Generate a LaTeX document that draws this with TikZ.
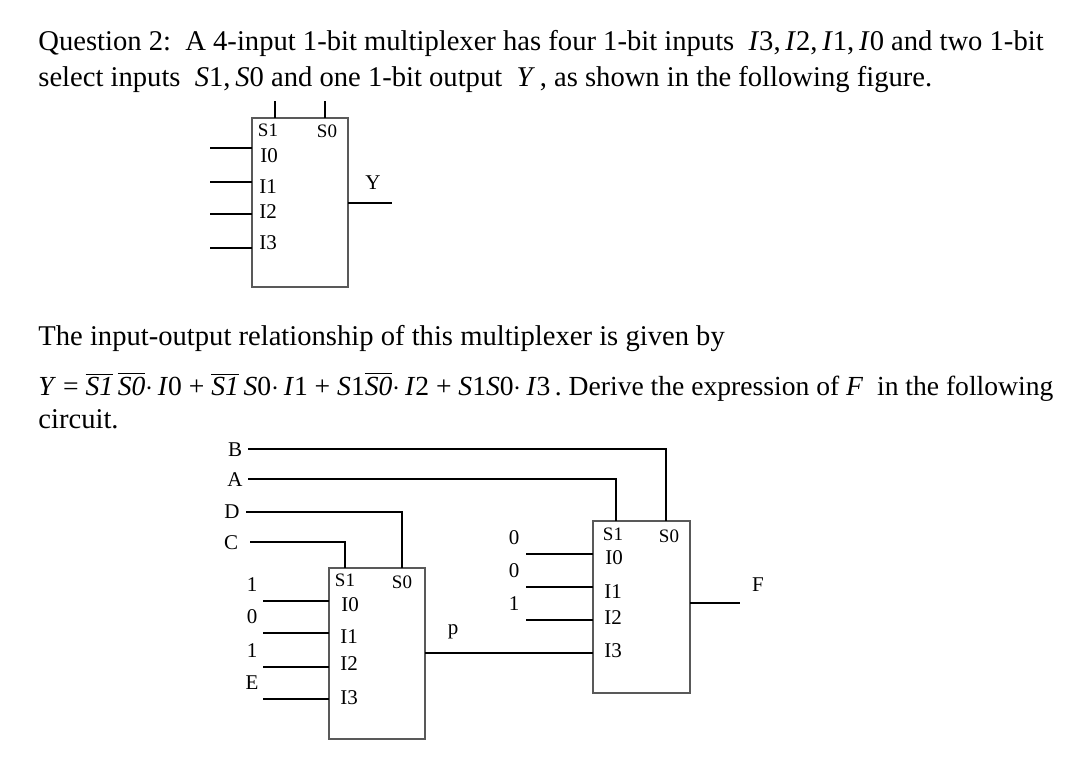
\documentclass[tikz,border=0pt]{standalone}
\usepackage{fontspec}
\setmainfont{Liberation Serif}
\begin{document}
\begin{tikzpicture}[x=0.5pt,y=-0.5pt,
  box/.style={draw=black!65,line width=0.8pt},
  wire/.style={draw,line width=0.9pt},
  txt/.style={anchor=base west,inner sep=0pt,font=\fontsize{14.3}{16}\selectfont},
  pin/.style={inner sep=0pt,font=\fontsize{9.5}{10}\selectfont},
  lab/.style={inner sep=0pt,font=\fontsize{10.5}{11}\selectfont}]
\useasboundingbox (0,0) rectangle (1090,756);
\newcommand{\ov}[1]{$\overline{\textit{#1}}$}
\node[txt] (t1) at (38,50) {Question 2:\ \ A 4-input 1-bit multiplexer has four 1-bit inputs\ \ \textit{I}3,\,\textit{I}2,\,\textit{I}1,\,\textit{I}0 and two 1-bit};
\node[txt] (t2) at (38,86) {select inputs\ \ \textit{S}1,\,\textit{S}0 and one 1-bit output\ \ \textit{Y}\,, as shown in the following figure.};
% top mux
\draw[box] (252,118) rectangle (348,287);
\coordinate (ts1) at (275,118); \coordinate (ts0) at (325,118);
\draw[wire] (ts1) -- (275,101); \draw[wire] (ts0) -- (325,101);
\foreach \y in {148,182,214,248} \draw[wire] (210,\y) -- (252,\y);
\draw[wire] (348,203) -- (392,203);
\node[pin] at (268,130) {S1}; \node[pin] at (327,131) {S0};
\node[lab] at (269,156) {I0}; \node[lab] at (268,187) {I1};
\node[lab] at (268,212) {I2}; \node[lab] at (268,243) {I3};
\node[lab] at (373,183) {Y};
\node[txt] (t3) at (38,345) {The input-output relationship of this multiplexer is given by};
\node[txt,font=\fontsize{13.8}{16}\selectfont] (t4) at (38,395) {\textit{Y} = \ov{S1}\,\ov{S0}$\cdot$\,\textit{I}0 + \ov{S1}\,\textit{S}0$\cdot$\,\textit{I}1 + \textit{S}1\ov{S0}$\cdot$\,\textit{I}2 + \textit{S}1\textit{S}0$\cdot$\,\textit{I}3\,.\ Derive the expression of\ \textit{F}\ \ in the following};
\node[txt] (t5) at (38,428) {circuit.};
% bottom circuit
\draw[box] (329,568) rectangle (425,739);
\draw[box] (593,521) rectangle (690,693);
\node[lab] (B) at (235,450) {B}; \node[lab] (A) at (235,480) {A};
\node[lab] (D) at (232,512) {D}; \node[lab] (C) at (231,543) {C};
\draw[wire] (248,449) -- (666,449) -- (666,521);
\draw[wire] (248,479) -- (616,479) -- (616,521);
\draw[wire] (246,512) -- (402,512) -- (402,568);
\draw[wire] (250,542) -- (345,542) -- (345,568);
\foreach \y/\l [count=\i] in {601/1,633/0,667/1,699/E}{
  \draw[wire] (263,\y) -- (329,\y);
  \node[lab] at (252,\y-16) {\l};}
\foreach \y/\l in {554/0,587/0,620/1}{
  \draw[wire] (526,\y) -- (593,\y);
  \node[lab] at (514,\y-16) {\l};}
\draw[wire] (425,653) -- (593,653);
\node[lab] at (453,632) {p};
\draw[wire] (690,603) -- (740,603);
\node[lab] at (758,585) {F};
\node[pin] at (345,580) {S1}; \node[pin] at (402,582) {S0};
\node[lab] at (350,605) {I0}; \node[lab] at (349,637) {I1};
\node[lab] at (349,664) {I2}; \node[lab] at (349,698) {I3};
\node[pin] at (613,534) {S1}; \node[pin] at (669,536) {S0};
\node[lab] at (614,558) {I0}; \node[lab] at (613,592) {I1};
\node[lab] at (613,618) {I2}; \node[lab] at (613,651) {I3};
\end{tikzpicture}
\end{document}
